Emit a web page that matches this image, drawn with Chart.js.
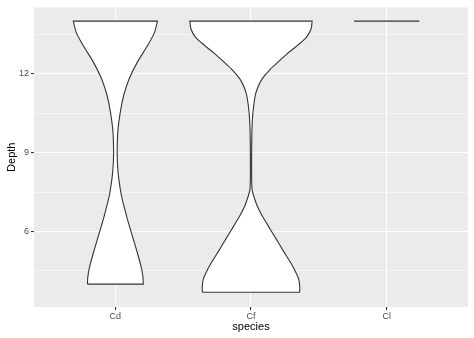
<!DOCTYPE html>
<html>
<head>
<meta charset="utf-8">
<script src="https://cdn.jsdelivr.net/npm/chart.js@4.4.1/dist/chart.umd.min.js"></script>
<style>
  html, body { margin: 0; padding: 0; background: #fff; }
  #wrap { width: 474px; height: 338px; position: relative; }
</style>
</head>
<body>
<div id="wrap"><canvas id="chart"></canvas></div>
<script>
// categories on the x axis
const species = ['Cd', 'Cf', 'Cl'];

// violin outlines: depth values and half widths (in category units)
const cdDepth = [4.0, 4.28, 4.66, 5.28, 6.04, 6.54, 7.17, 7.55, 8.3, 9.0, 9.8, 10.56, 11.19, 11.81, 12.44, 13.06, 13.56, 14.0];
const cdHalf = [0.206, 0.203, 0.19, 0.157, 0.113, 0.085, 0.053, 0.038, 0.019, 0.013, 0.018, 0.037, 0.062, 0.102, 0.162, 0.236, 0.288, 0.31];

const cfDepth = [3.69, 3.85, 4.16, 4.47, 4.79, 5.1, 5.41, 5.73, 6.04, 6.35, 6.66, 6.97, 7.35, 7.61, 8.5, 9.94, 10.56, 11.19, 11.5, 11.81, 12.13, 12.44, 12.75, 13.06, 13.38, 13.69, 14.0];
const cfHalf = [0.358, 0.36, 0.353, 0.328, 0.295, 0.258, 0.221, 0.184, 0.147, 0.111, 0.076, 0.046, 0.02, 0.0074, 0.0044, 0.0074, 0.015, 0.032, 0.052, 0.083, 0.135, 0.199, 0.265, 0.339, 0.408, 0.442, 0.451];

const clDepth = [14.0];
const clHalf = [0.24];

// y axis ticks
const yMajor = [6, 9, 12];
const yMinor = [4.5, 7.5, 10.5, 13.5];

// closed outline: up the left side, across the top, down the right side, across the bottom.
// corner points are doubled so the spline keeps the caps flat
function outline(center, depth, half) {
    const n = depth.length;
    const pts = [];
    for (let i = 0; i < n; i++) pts.push({ x: center - half[i], y: depth[i] });
    pts.push({ x: center - half[n - 1], y: depth[n - 1] });
    pts.push({ x: center + half[n - 1], y: depth[n - 1] });
    for (let i = n - 1; i >= 0; i--) pts.push({ x: center + half[i], y: depth[i] });
    pts.push({ x: center + half[0], y: depth[0] });
    pts.push({ x: center - half[0], y: depth[0] });
    return pts;
}

const violins = [[cdDepth, cdHalf], [cfDepth, cfHalf], [clDepth, clHalf]];

const datasets = violins.map(([d, h], i) => ({
    label: species[i],
    data: outline(i + 1, d, h),
    showLine: true,
    fill: 'shape',
    backgroundColor: '#ffffff',
    borderColor: '#333333',
    borderWidth: 1.1,
    tension: 0.3,
    pointRadius: 0,
    pointHoverRadius: 0,
}));

// grey panel like ggplot
const panelBg = {
    id: 'panelBg',
    beforeDraw(chart) {
        const { ctx, chartArea: a } = chart;
        ctx.save();
        ctx.fillStyle = '#ffffff';
        ctx.fillRect(0, 0, chart.width, chart.height);
        ctx.fillStyle = '#EBEBEB';
        ctx.fillRect(a.left, a.top, a.right - a.left, a.bottom - a.top);
        ctx.restore();
    }
};

const isMajor = (v) => yMajor.includes(v);

new Chart(document.getElementById('chart'), {
    type: 'scatter',
    data: { datasets },
    plugins: [panelBg],
    options: {
        responsive: true,
        maintainAspectRatio: false,
        animation: false,
        layout: { padding: { left: 0, top: 5, right: 6, bottom: 0 } },
        plugins: { legend: { display: false }, tooltip: { enabled: false } },
        scales: {
            x: {
                type: 'linear',
                min: 0.4,
                max: 3.6,
                afterBuildTicks: (s) => { s.ticks = species.map((_, i) => ({ value: i + 1 })); },
                afterFit: (s) => { s.height = 31; },
                border: { display: false },
                grid: { color: '#ffffff', lineWidth: 1.1, tickLength: 3, tickColor: '#333333' },
                ticks: {
                    color: '#4D4D4D',
                    font: { family: 'Liberation Sans', size: 9 },
                    padding: 1,
                    maxRotation: 0,
                    callback: (v) => species[v - 1]
                },
                title: {
                    display: true,
                    text: 'species',
                    color: '#000000',
                    font: { family: 'Liberation Sans', size: 11 },
                    padding: { top: 0, bottom: 4 }
                }
            },
            y: {
                type: 'linear',
                min: 3.13,
                max: 14.52,
                afterBuildTicks: (s) => { s.ticks = [...yMinor, ...yMajor].sort((a, b) => a - b).map(v => ({ value: v })); },
                afterFit: (s) => { s.width = 34; },
                border: { display: false },
                grid: {
                    color: '#ffffff',
                    lineWidth: (c) => isMajor(c.tick.value) ? 1.1 : 0.55,
                    tickLength: 3,
                    tickColor: (c) => isMajor(c.tick.value) ? '#333333' : 'rgba(0,0,0,0)'
                },
                ticks: {
                    color: '#4D4D4D',
                    font: { family: 'Liberation Sans', size: 9 },
                    padding: 2,
                    callback: (v) => isMajor(v) ? String(v) : ''
                },
                title: {
                    display: true,
                    text: 'Depth',
                    color: '#000000',
                    font: { family: 'Liberation Sans', size: 11 },
                    padding: { top: 5, bottom: 0 }
                }
            }
        }
    }
});
</script>
</body>
</html>
